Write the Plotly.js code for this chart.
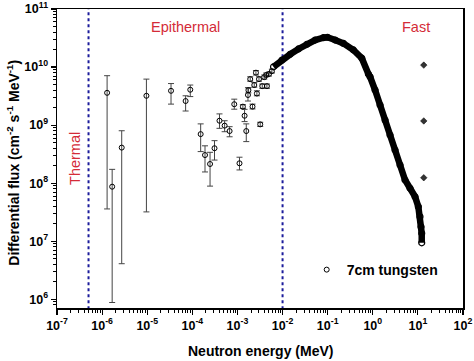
<!DOCTYPE html>
<html>
<head>
<meta charset="utf-8">
<script src="https://cdn.plot.ly/plotly-3.0.1.min.js"></script>
<style>html,body{margin:0;padding:0;background:#fff;}#chart{width:474px;height:361px;}</style>
</head>
<body>
<div id="chart"></div>
<script>
// Epithermal region points (energy MeV, flux, upper & lower error-bar ends)
const epiEnergy = [1.29e-6,1.67e-6,2.72e-6,9.6e-6,3.37e-5,7.1e-5,9.0e-5,1.53e-4,1.91e-4,2.47e-4,3.1e-4,4.0e-4,5.2e-4,6.7e-4,8.5e-4,1.11e-3,1.32e-3,1.44e-3,1.57e-3,1.71e-3,1.75e-3,1.92e-3,2.16e-3,2.57e-3,2.36e-3,2.7e-3,3.2e-3,3.0e-3,3.55e-3,3.93e-3,4.5e-3,4.35e-3,5.0e-3,5.8e-3];
const epiFlux   = [3.6e9,8.7e7,4.1e8,3.2e9,3.9e9,2.6e9,4.07e9,7.0e8,3.05e8,2.14e8,4.0e8,1.19e9,9.8e8,7.9e8,2.29e9,2.2e8,2.08e9,1.45e9,7.9e8,3.3e9,4.0e9,6.2e9,2.08e9,8.0e9,4.9e9,3.5e9,1.03e9,6.2e9,4.7e9,6.7e9,4.7e9,7.3e9,7.6e9,8.5e9];
const epiHigh   = [7.1e9,1.73e8,8.0e8,6.2e9,5.2e9,3.2e9,4.9e9,1.05e9,4.4e8,3.4e8,5.4e8,1.56e9,1.19e9,9.4e8,2.8e9,2.8e8,2.25e9,1.87e9,1.05e9,4.4e9,4.4e9,6.8e9,2.3e9,8.7e9,5.4e9,3.9e9,1.12e9,6.8e9,5.1e9,7.3e9,5.1e9,7.9e9,8.2e9,9.2e9];
const epiLow    = [3.6e7,8.8e5,4.1e6,3.2e7,2.3e9,1.75e9,3.1e9,3.5e8,1.56e8,8.9e7,2.5e8,8.8e8,7.7e8,6.3e8,1.88e9,1.69e8,1.93e9,1.15e9,5.2e8,2.6e9,3.6e9,5.7e9,1.9e9,7.3e9,4.5e9,3.2e9,0.95e9,5.7e9,4.3e9,6.2e9,4.3e9,6.8e9,7.0e9,7.9e9];

// Fast region (dense measured curve)
const fastEnergy = [6.31e-3,9.68e-3,0.01476,0.02254,0.0346,0.0528,0.0807,0.0989,0.1466,0.2234,0.3724,0.5715,0.80,0.871,1.125,1.452,1.875,2.415,3.119,4.027,5.188,6.699,8.65,10.23,11.14,11.75,12.16,12.16];
const fastFlux   = [1.01e10,1.32e10,1.66e10,2.05e10,2.47e10,2.92e10,3.21e10,3.26e10,2.92e10,2.56e10,1.97e10,1.42e10,7.6e9,6.8e9,4.03e9,2.22e9,1.22e9,6.76e8,3.72e8,2.06e8,1.135e8,8.17e7,5.85e7,3.94e7,2.65e7,1.78e7,1.37e7,9.4e6];

// Isolated high-energy points
const peakEnergy = [13.5,13.5,13.5];
const peakFlux   = [1.08e10,1.18e9,1.24e8];

// Region boundaries (MeV)
const boundaries = [5e-7, 1e-2];
const regionLabels = ['Thermal','Epithermal','Fast'];
const seriesName = '7cm tungsten';
const xTitle = 'Neutron energy (MeV)';
const yTitle = 'Differential flux (cm<sup>-2</sup> s<sup>-1</sup> MeV<sup>-1</sup>)';

// Tick labels
const xTickVals = [1e-7,1e-6,1e-5,1e-4,1e-3,1e-2,1e-1,1e0,1e1,1e2];
const xTickText = ['10<sup>-7</sup>','10<sup>-6</sup>','10<sup>-5</sup>','10<sup>-4</sup>','10<sup>-3</sup>','10<sup>-2</sup>','10<sup>-1</sup>','10<sup>0</sup>','10<sup>1</sup>','10<sup>2</sup>'];
const yTickVals = [1e6,1e7,1e8,1e9,1e10,1e11];
const yTickText = ['10<sup>6</sup>','10<sup>7</sup>','10<sup>8</sup>','10<sup>9</sup>','10<sup>10</sup>','10<sup>11</sup>'];

const errPlus = epiFlux.map((v,i)=>epiHigh[i]-v);
const errMinus = epiFlux.map((v,i)=>v-epiLow[i]);

const FONT = 'Liberation Sans, Arial, sans-serif';
const RED = '#d42b38';
const BLUE = '#1c1c9c';

const traces = [];
boundaries.forEach(b=>{
  traces.push({x:[b,b], y:[1e5,1e12], mode:'lines', showlegend:false, hoverinfo:'skip',
    line:{color:BLUE, width:2, dash:'dot'}});
});
traces.push({
  x: epiEnergy, y: epiFlux, mode:'markers', showlegend:false,
  marker:{symbol:'circle-open', size:5, color:'#000', line:{width:1, color:'#000'}},
  error_y:{type:'data', symmetric:false, array:errPlus, arrayminus:errMinus, color:'#444', thickness:1, width:3}
});
traces.push({
  x: fastEnergy, y: fastFlux, mode:'lines+markers', showlegend:false,
  line:{color:'#000', width:6.5},
  marker:{symbol:'circle-open', size:6, color:'#000', line:{width:1.2, color:'#000'}}
});
traces.push({
  x: peakEnergy, y: peakFlux, mode:'markers', showlegend:false,
  marker:{symbol:'diamond', size:5, color:'#333', line:{width:0.5, color:'#000'}}
});
// legend entry
traces.push({
  x: [null], y: [null], mode:'markers', name: seriesName, showlegend:true,
  marker:{symbol:'circle-open', size:5, color:'#000', line:{width:1, color:'#000'}}
});

const axisCommon = {
  type:'log', showgrid:false, zeroline:false,
  showline:true, linecolor:'#000', linewidth:1.5, mirror:true,
  ticks:'outside', ticklen:5, tickwidth:1.2, tickcolor:'#000',
  tickmode:'array',
  tickfont:{family:FONT, size:12.5, color:'#000', weight:'bold'},
  minor:{ticks:'outside', ticklen:3, tickwidth:1, tickcolor:'#000', dtick:'D1'}
};

const layout = {
  width:474, height:361,
  margin:{l:56.5, r:11, t:9, b:53},
  paper_bgcolor:'#fff', plot_bgcolor:'#fff',
  showlegend:true,
  legend:{x:0.615, y:0.127, xanchor:'left', yanchor:'middle', bgcolor:'rgba(0,0,0,0)',
    font:{family:FONT, size:14, color:'#000', weight:'bold'}},
  xaxis: Object.assign({}, axisCommon, {
    range:[-7, 2], tickvals:xTickVals, ticktext:xTickText
  }),
  yaxis: Object.assign({}, axisCommon, {
    range:[5.85, 11], tickvals:yTickVals, ticktext:yTickText
  }),
  annotations:[
    {text:xTitle, xref:'paper', yref:'paper', x:0.5, y:-0.144, xanchor:'center', yanchor:'middle', showarrow:false,
      font:{family:FONT, size:14, color:'#000', weight:'bold'}},
    {text:yTitle, xref:'paper', yref:'paper',
      x:-0.109, y:0.485, xanchor:'center', yanchor:'middle', showarrow:false, textangle:-90,
      font:{family:FONT, size:14, color:'#000', weight:'bold'}},
    {text:regionLabels[0], xref:'paper', yref:'paper', x:0.043, y:0.50, xanchor:'center', yanchor:'middle', showarrow:false, textangle:-90,
      font:{family:FONT, size:14.5, color:RED}},
    {text:regionLabels[1], xref:'paper', yref:'paper', x:0.316, y:0.94, xanchor:'center', yanchor:'middle', showarrow:false,
      font:{family:FONT, size:14.5, color:RED}},
    {text:regionLabels[2], xref:'paper', yref:'paper', x:0.884, y:0.94, xanchor:'center', yanchor:'middle', showarrow:false,
      font:{family:FONT, size:14.5, color:RED}}
  ]
};

Plotly.newPlot('chart', traces, layout, {displayModeBar:false, staticPlot:true});
</script>
</body>
</html>
